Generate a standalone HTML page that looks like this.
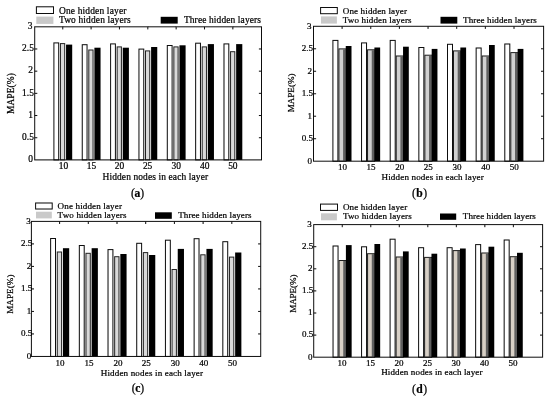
<!DOCTYPE html>
<html><head><meta charset="utf-8"><title>MAPE vs hidden nodes</title>
<style>
html,body{margin:0;padding:0;background:#fff;}
body{width:550px;height:402px;overflow:hidden;}
svg{display:block;}
svg text{font-family:"Liberation Serif",serif;fill:#000;stroke:#000;stroke-width:0.22px;}
</style></head><body>
<svg width="550" height="402" viewBox="0 0 550 402">
<defs><filter id="soft" x="0" y="0" width="550" height="402" filterUnits="userSpaceOnUse"><feGaussianBlur stdDeviation="0.32"/></filter></defs>
<rect x="0" y="0" width="550" height="402" fill="#fff"/>
<g filter="url(#soft)">
<g id="chart-a">
<rect x="53.9" y="42.9" width="4.8" height="117" fill="#fff" stroke="#0a0a0a" stroke-width="1"/><rect x="60.45" y="43.6" width="4.25" height="116.3" fill="#d9d9d9" stroke="#222" stroke-width="1"/><rect x="66.05" y="44.6" width="6.15" height="115.3" fill="#000"/>
<rect x="82.25" y="44.7" width="4.8" height="115.2" fill="#fff" stroke="#0a0a0a" stroke-width="1"/><rect x="88.8" y="50" width="4.25" height="109.9" fill="#d9d9d9" stroke="#222" stroke-width="1"/><rect x="94.4" y="47.7" width="6.15" height="112.2" fill="#000"/>
<rect x="110.6" y="43.9" width="4.8" height="116" fill="#fff" stroke="#0a0a0a" stroke-width="1"/><rect x="117.15" y="46.9" width="4.25" height="113" fill="#d9d9d9" stroke="#222" stroke-width="1"/><rect x="122.75" y="47.7" width="6.15" height="112.2" fill="#000"/>
<rect x="138.95" y="49.1" width="4.8" height="110.8" fill="#fff" stroke="#0a0a0a" stroke-width="1"/><rect x="145.5" y="50.9" width="4.25" height="109" fill="#d9d9d9" stroke="#222" stroke-width="1"/><rect x="151.1" y="47" width="6.15" height="112.9" fill="#000"/>
<rect x="167.3" y="45.5" width="4.8" height="114.4" fill="#fff" stroke="#0a0a0a" stroke-width="1"/><rect x="173.85" y="46.9" width="4.25" height="113" fill="#d9d9d9" stroke="#222" stroke-width="1"/><rect x="179.45" y="45.3" width="6.15" height="114.6" fill="#000"/>
<rect x="195.65" y="43.2" width="4.8" height="116.7" fill="#fff" stroke="#0a0a0a" stroke-width="1"/><rect x="202.2" y="46.9" width="4.25" height="113" fill="#d9d9d9" stroke="#222" stroke-width="1"/><rect x="207.8" y="44.1" width="6.15" height="115.8" fill="#000"/>
<rect x="224" y="43.9" width="4.8" height="116" fill="#fff" stroke="#0a0a0a" stroke-width="1"/><rect x="230.55" y="51.7" width="4.25" height="108.2" fill="#d9d9d9" stroke="#222" stroke-width="1"/><rect x="236.15" y="44.1" width="6.15" height="115.8" fill="#000"/>
<rect x="34.7" y="26.8" width="226.8" height="133.1" fill="none" stroke="#0a0a0a" stroke-width="1"/>
<path d="M62.75 26.8v2.6" stroke="#0a0a0a" stroke-width="1"/><text x="63.55" y="169.2" font-size="9.45" text-anchor="middle">10</text>
<path d="M91.1 26.8v2.6" stroke="#0a0a0a" stroke-width="1"/><text x="91.4" y="169.2" font-size="9.45" text-anchor="middle">15</text>
<path d="M119.45 26.8v2.6" stroke="#0a0a0a" stroke-width="1"/><text x="119.45" y="169.2" font-size="9.45" text-anchor="middle">20</text>
<path d="M147.8 26.8v2.6" stroke="#0a0a0a" stroke-width="1"/><text x="147.6" y="169.2" font-size="9.45" text-anchor="middle">25</text>
<path d="M176.15 26.8v2.6" stroke="#0a0a0a" stroke-width="1"/><text x="176.15" y="169.2" font-size="9.45" text-anchor="middle">30</text>
<path d="M204.5 26.8v2.6" stroke="#0a0a0a" stroke-width="1"/><text x="204.7" y="169.2" font-size="9.45" text-anchor="middle">40</text>
<path d="M232.85 26.8v2.6" stroke="#0a0a0a" stroke-width="1"/><text x="232.85" y="169.2" font-size="9.45" text-anchor="middle">50</text>
<text x="33" y="162.2" font-size="9.45" text-anchor="end">0</text>
<path d="M34.7 137.72h2.6M261.5 137.72h-2.6" stroke="#0a0a0a" stroke-width="1"/><text x="33.9" y="140.02" font-size="9.45" text-anchor="end">0.5</text>
<path d="M34.7 115.53h2.6M261.5 115.53h-2.6" stroke="#0a0a0a" stroke-width="1"/><text x="33" y="117.83" font-size="9.45" text-anchor="end">1</text>
<path d="M34.7 93.35h2.6M261.5 93.35h-2.6" stroke="#0a0a0a" stroke-width="1"/><text x="33.9" y="95.65" font-size="9.45" text-anchor="end">1.5</text>
<path d="M34.7 71.17h2.6M261.5 71.17h-2.6" stroke="#0a0a0a" stroke-width="1"/><text x="33" y="73.47" font-size="9.45" text-anchor="end">2</text>
<path d="M34.7 48.98h2.6M261.5 48.98h-2.6" stroke="#0a0a0a" stroke-width="1"/><text x="33.9" y="51.28" font-size="9.45" text-anchor="end">2.5</text>
<text x="32.4" y="29.1" font-size="9.45" text-anchor="end">3</text>
<rect x="36.4" y="6.8" width="17.1" height="6.7" fill="#fff" stroke="#0a0a0a" stroke-width="1"/><rect x="36.3" y="16.6" width="17.1" height="7.3" fill="#c9c9c9"/><rect x="160.7" y="16.8" width="17" height="6.8" fill="#000"/>
<text x="58.9" y="14" font-size="9.45" textLength="67.5" lengthAdjust="spacing">One hidden layer</text>
<text x="58.9" y="23" font-size="9.45" textLength="71.9" lengthAdjust="spacing">Two hidden layers</text>
<text x="183.9" y="23" font-size="9.45" textLength="77.1" lengthAdjust="spacing">Three hidden layers</text>
<text x="102.5" y="179.8" font-size="9.45" textLength="105.6" lengthAdjust="spacing">Hidden nodes in each layer</text>
<text transform="translate(13.7 93.6) rotate(-90)" font-size="9.45" text-anchor="middle" textLength="40.8" lengthAdjust="spacing">MAPE(%)</text>
<text x="130.9" y="196.6" font-size="11.6" textLength="13.1" lengthAdjust="spacing">(<tspan font-weight="bold">a</tspan>)</text>
</g>
<g id="chart-b">
<rect x="332.9" y="40.4" width="5" height="120.8" fill="#fff" stroke="#0a0a0a" stroke-width="1"/><rect x="338.9" y="48.9" width="7.1" height="112.3" fill="#d0d0d0" stroke="#1c1c1c" stroke-width="1"/><rect x="343.1" y="49.3" width="2.9" height="111.9" fill="#5e5e5e"/><rect x="345.75" y="46" width="5.75" height="115.2" fill="#000"/>
<rect x="361.55" y="42.9" width="5" height="118.3" fill="#fff" stroke="#0a0a0a" stroke-width="1"/><rect x="367.55" y="49.8" width="7.1" height="111.4" fill="#d0d0d0" stroke="#1c1c1c" stroke-width="1"/><rect x="371.75" y="50.2" width="2.9" height="111" fill="#5e5e5e"/><rect x="374.4" y="47.5" width="5.75" height="113.7" fill="#000"/>
<rect x="390.2" y="40.4" width="5" height="120.8" fill="#fff" stroke="#0a0a0a" stroke-width="1"/><rect x="396.2" y="56" width="7.1" height="105.2" fill="#d0d0d0" stroke="#1c1c1c" stroke-width="1"/><rect x="400.4" y="56.4" width="2.9" height="104.8" fill="#5e5e5e"/><rect x="403.05" y="46.7" width="5.75" height="114.5" fill="#000"/>
<rect x="418.85" y="47.5" width="5" height="113.7" fill="#fff" stroke="#0a0a0a" stroke-width="1"/><rect x="424.85" y="55.2" width="7.1" height="106" fill="#d0d0d0" stroke="#1c1c1c" stroke-width="1"/><rect x="429.05" y="55.6" width="2.9" height="105.6" fill="#5e5e5e"/><rect x="431.7" y="48.9" width="5.75" height="112.3" fill="#000"/>
<rect x="447.5" y="44.3" width="5" height="116.9" fill="#fff" stroke="#0a0a0a" stroke-width="1"/><rect x="453.5" y="50.9" width="7.1" height="110.3" fill="#d0d0d0" stroke="#1c1c1c" stroke-width="1"/><rect x="457.7" y="51.3" width="2.9" height="109.9" fill="#5e5e5e"/><rect x="460.35" y="47.5" width="5.75" height="113.7" fill="#000"/>
<rect x="476.15" y="48" width="5" height="113.2" fill="#fff" stroke="#0a0a0a" stroke-width="1"/><rect x="482.15" y="56" width="7.1" height="105.2" fill="#d0d0d0" stroke="#1c1c1c" stroke-width="1"/><rect x="486.35" y="56.4" width="2.9" height="104.8" fill="#5e5e5e"/><rect x="489" y="45" width="5.75" height="116.2" fill="#000"/>
<rect x="504.8" y="44" width="5" height="117.2" fill="#fff" stroke="#0a0a0a" stroke-width="1"/><rect x="510.8" y="52.6" width="7.1" height="108.6" fill="#d0d0d0" stroke="#1c1c1c" stroke-width="1"/><rect x="515" y="53" width="2.9" height="108.2" fill="#5e5e5e"/><rect x="517.65" y="48.9" width="5.75" height="112.3" fill="#000"/>
<rect x="313.5" y="26.3" width="230.1" height="134.9" fill="none" stroke="#0a0a0a" stroke-width="1"/>
<path d="M342.1 26.3v2.6" stroke="#0a0a0a" stroke-width="1"/><text x="342.4" y="170" font-size="9.05" text-anchor="middle">10</text>
<path d="M370.75 26.3v2.6" stroke="#0a0a0a" stroke-width="1"/><text x="371.05" y="170" font-size="9.05" text-anchor="middle">15</text>
<path d="M399.4 26.3v2.6" stroke="#0a0a0a" stroke-width="1"/><text x="399.7" y="170" font-size="9.05" text-anchor="middle">20</text>
<path d="M428.05 26.3v2.6" stroke="#0a0a0a" stroke-width="1"/><text x="428.35" y="170" font-size="9.05" text-anchor="middle">25</text>
<path d="M456.7 26.3v2.6" stroke="#0a0a0a" stroke-width="1"/><text x="457" y="170" font-size="9.05" text-anchor="middle">30</text>
<path d="M485.35 26.3v2.6" stroke="#0a0a0a" stroke-width="1"/><text x="485.65" y="170" font-size="9.05" text-anchor="middle">40</text>
<path d="M514 26.3v2.6" stroke="#0a0a0a" stroke-width="1"/><text x="514.3" y="170" font-size="9.05" text-anchor="middle">50</text>
<text x="312.05" y="163.5" font-size="9.05" text-anchor="end">0</text>
<path d="M313.5 138.72h2.6M543.6 138.72h-2.6" stroke="#0a0a0a" stroke-width="1"/><text x="312.95" y="141.02" font-size="9.05" text-anchor="end">0.5</text>
<path d="M313.5 116.23h2.6M543.6 116.23h-2.6" stroke="#0a0a0a" stroke-width="1"/><text x="312.05" y="118.53" font-size="9.05" text-anchor="end">1</text>
<path d="M313.5 93.75h2.6M543.6 93.75h-2.6" stroke="#0a0a0a" stroke-width="1"/><text x="312.95" y="96.05" font-size="9.05" text-anchor="end">1.5</text>
<path d="M313.5 71.27h2.6M543.6 71.27h-2.6" stroke="#0a0a0a" stroke-width="1"/><text x="312.05" y="73.57" font-size="9.05" text-anchor="end">2</text>
<path d="M313.5 48.78h2.6M543.6 48.78h-2.6" stroke="#0a0a0a" stroke-width="1"/><text x="312.95" y="51.08" font-size="9.05" text-anchor="end">2.5</text>
<text x="311.45" y="28.6" font-size="9.05" text-anchor="end">3</text>
<rect x="320.6" y="7.5" width="16.7" height="6.2" fill="#fff" stroke="#0a0a0a" stroke-width="1"/><rect x="321" y="16.4" width="15.9" height="7.2" fill="#c9c9c9"/><rect x="440.5" y="16.8" width="16.8" height="6.8" fill="#000"/>
<text x="342.7" y="14" font-size="9.05" textLength="64.3" lengthAdjust="spacing">One hidden layer</text>
<text x="342.7" y="23" font-size="9.05" textLength="68.9" lengthAdjust="spacing">Two hidden layers</text>
<text x="463" y="23" font-size="9.05" textLength="73.9" lengthAdjust="spacing">Three hidden layers</text>
<text x="381.5" y="179.6" font-size="9.05" textLength="102.3" lengthAdjust="spacing">Hidden nodes in each layer</text>
<text transform="translate(294.2 92.9) rotate(-90)" font-size="9.05" text-anchor="middle" textLength="38.8" lengthAdjust="spacing">MAPE(%)</text>
<text x="412" y="197" font-size="11.6" textLength="15.0" lengthAdjust="spacing">(<tspan font-weight="bold">b</tspan>)</text>
</g>
<g id="chart-c">
<rect x="50.63" y="238.5" width="4.88" height="117.95" fill="#fff" stroke="#0a0a0a" stroke-width="1"/><rect x="57.26" y="252" width="4.33" height="104.45" fill="#d9d9d9" stroke="#222" stroke-width="1"/><rect x="62.94" y="248.2" width="6.23" height="108.25" fill="#000"/>
<rect x="79.33" y="245.5" width="4.88" height="110.95" fill="#fff" stroke="#0a0a0a" stroke-width="1"/><rect x="85.96" y="253.3" width="4.33" height="103.15" fill="#d9d9d9" stroke="#222" stroke-width="1"/><rect x="91.64" y="248.2" width="6.23" height="108.25" fill="#000"/>
<rect x="108.03" y="249.6" width="4.88" height="106.85" fill="#fff" stroke="#0a0a0a" stroke-width="1"/><rect x="114.66" y="256.7" width="4.33" height="99.75" fill="#d9d9d9" stroke="#222" stroke-width="1"/><rect x="120.34" y="254" width="6.23" height="102.45" fill="#000"/>
<rect x="136.73" y="243.3" width="4.88" height="113.15" fill="#fff" stroke="#0a0a0a" stroke-width="1"/><rect x="143.36" y="252.6" width="4.33" height="103.85" fill="#d9d9d9" stroke="#222" stroke-width="1"/><rect x="149.04" y="255" width="6.23" height="101.45" fill="#000"/>
<rect x="165.43" y="240.2" width="4.88" height="116.25" fill="#fff" stroke="#0a0a0a" stroke-width="1"/><rect x="172.06" y="269.5" width="4.33" height="86.95" fill="#d9d9d9" stroke="#222" stroke-width="1"/><rect x="177.74" y="248.9" width="6.23" height="107.55" fill="#000"/>
<rect x="194.13" y="238.7" width="4.88" height="117.75" fill="#fff" stroke="#0a0a0a" stroke-width="1"/><rect x="200.76" y="254.8" width="4.33" height="101.65" fill="#d9d9d9" stroke="#222" stroke-width="1"/><rect x="206.44" y="248.9" width="6.23" height="107.55" fill="#000"/>
<rect x="222.83" y="241.7" width="4.88" height="114.75" fill="#fff" stroke="#0a0a0a" stroke-width="1"/><rect x="229.46" y="257.1" width="4.33" height="99.35" fill="#d9d9d9" stroke="#222" stroke-width="1"/><rect x="235.14" y="252.5" width="6.23" height="103.95" fill="#000"/>
<rect x="31.4" y="221.4" width="229.3" height="135.05" fill="none" stroke="#0a0a0a" stroke-width="1"/>
<path d="M59.6 221.4v2.6" stroke="#0a0a0a" stroke-width="1"/><text x="60.1" y="366.2" font-size="9.05" text-anchor="middle">10</text>
<path d="M88.3 221.4v2.6" stroke="#0a0a0a" stroke-width="1"/><text x="88.9" y="366.2" font-size="9.05" text-anchor="middle">15</text>
<path d="M117 221.4v2.6" stroke="#0a0a0a" stroke-width="1"/><text x="118" y="366.2" font-size="9.05" text-anchor="middle">20</text>
<path d="M145.7 221.4v2.6" stroke="#0a0a0a" stroke-width="1"/><text x="146.3" y="366.2" font-size="9.05" text-anchor="middle">25</text>
<path d="M174.4 221.4v2.6" stroke="#0a0a0a" stroke-width="1"/><text x="175.2" y="366.2" font-size="9.05" text-anchor="middle">30</text>
<path d="M203.1 221.4v2.6" stroke="#0a0a0a" stroke-width="1"/><text x="203.8" y="366.2" font-size="9.05" text-anchor="middle">40</text>
<path d="M231.8 221.4v2.6" stroke="#0a0a0a" stroke-width="1"/><text x="232.4" y="366.2" font-size="9.05" text-anchor="middle">50</text>
<text x="31.4" y="358.75" font-size="9.05" text-anchor="end">0</text>
<path d="M31.4 333.94h2.6M260.7 333.94h-2.6" stroke="#0a0a0a" stroke-width="1"/><text x="32.3" y="336.24" font-size="9.05" text-anchor="end">0.5</text>
<path d="M31.4 311.43h2.6M260.7 311.43h-2.6" stroke="#0a0a0a" stroke-width="1"/><text x="31.4" y="313.73" font-size="9.05" text-anchor="end">1</text>
<path d="M31.4 288.93h2.6M260.7 288.93h-2.6" stroke="#0a0a0a" stroke-width="1"/><text x="32.3" y="291.23" font-size="9.05" text-anchor="end">1.5</text>
<path d="M31.4 266.42h2.6M260.7 266.42h-2.6" stroke="#0a0a0a" stroke-width="1"/><text x="31.4" y="268.72" font-size="9.05" text-anchor="end">2</text>
<path d="M31.4 243.91h2.6M260.7 243.91h-2.6" stroke="#0a0a0a" stroke-width="1"/><text x="32.3" y="246.21" font-size="9.05" text-anchor="end">2.5</text>
<text x="30.8" y="223.7" font-size="9.05" text-anchor="end">3</text>
<rect x="35.6" y="203" width="16.6" height="6" fill="#fff" stroke="#0a0a0a" stroke-width="1"/><rect x="36" y="211.7" width="15.8" height="6.7" fill="#c9c9c9"/><rect x="155" y="212.3" width="16.8" height="6.5" fill="#000"/>
<text x="57.6" y="209" font-size="9.05" textLength="64.3" lengthAdjust="spacing">One hidden layer</text>
<text x="57.6" y="218" font-size="9.05" textLength="68.9" lengthAdjust="spacing">Two hidden layers</text>
<text x="178.2" y="218" font-size="9.05" textLength="73.4" lengthAdjust="spacing">Three hidden layers</text>
<text x="100.7" y="375.9" font-size="9.05" textLength="102.3" lengthAdjust="spacing">Hidden nodes in each layer</text>
<text transform="translate(13.05 294.2) rotate(-90)" font-size="9.05" text-anchor="middle" textLength="39.2" lengthAdjust="spacing">MAPE(%)</text>
<text x="131.7" y="392.4" font-size="11.6" textLength="12.5" lengthAdjust="spacing">(<tspan font-weight="bold">c</tspan>)</text>
</g>
<g id="chart-d">
<rect x="333.05" y="246" width="5" height="111.2" fill="#fff" stroke="#0a0a0a" stroke-width="1"/><rect x="339.05" y="260.5" width="7.1" height="96.7" fill="#d8d0c6" stroke="#1c1c1c" stroke-width="1"/><rect x="343.25" y="260.9" width="2.9" height="96.3" fill="#5e5e5e"/><rect x="345.9" y="245.1" width="5.75" height="112.1" fill="#000"/>
<rect x="361.57" y="246.8" width="5" height="110.4" fill="#fff" stroke="#0a0a0a" stroke-width="1"/><rect x="367.57" y="253.7" width="7.1" height="103.5" fill="#d8d0c6" stroke="#1c1c1c" stroke-width="1"/><rect x="371.77" y="254.1" width="2.9" height="103.1" fill="#5e5e5e"/><rect x="374.42" y="244" width="5.75" height="113.2" fill="#000"/>
<rect x="390.09" y="239.2" width="5" height="118" fill="#fff" stroke="#0a0a0a" stroke-width="1"/><rect x="396.09" y="257" width="7.1" height="100.2" fill="#d8d0c6" stroke="#1c1c1c" stroke-width="1"/><rect x="400.29" y="257.4" width="2.9" height="99.8" fill="#5e5e5e"/><rect x="402.94" y="251.4" width="5.75" height="105.8" fill="#000"/>
<rect x="418.61" y="247.7" width="5" height="109.5" fill="#fff" stroke="#0a0a0a" stroke-width="1"/><rect x="424.61" y="257.4" width="7.1" height="99.8" fill="#d8d0c6" stroke="#1c1c1c" stroke-width="1"/><rect x="428.81" y="257.8" width="2.9" height="99.4" fill="#5e5e5e"/><rect x="431.46" y="253.7" width="5.75" height="103.5" fill="#000"/>
<rect x="447.13" y="247.7" width="5" height="109.5" fill="#fff" stroke="#0a0a0a" stroke-width="1"/><rect x="453.13" y="250.6" width="7.1" height="106.6" fill="#d8d0c6" stroke="#1c1c1c" stroke-width="1"/><rect x="457.33" y="251" width="2.9" height="106.2" fill="#5e5e5e"/><rect x="459.98" y="248.5" width="5.75" height="108.7" fill="#000"/>
<rect x="475.65" y="244.6" width="5" height="112.6" fill="#fff" stroke="#0a0a0a" stroke-width="1"/><rect x="481.65" y="253" width="7.1" height="104.2" fill="#d8d0c6" stroke="#1c1c1c" stroke-width="1"/><rect x="485.85" y="253.4" width="2.9" height="103.8" fill="#5e5e5e"/><rect x="488.5" y="246.7" width="5.75" height="110.5" fill="#000"/>
<rect x="504.17" y="240" width="5" height="117.2" fill="#fff" stroke="#0a0a0a" stroke-width="1"/><rect x="510.17" y="256.7" width="7.1" height="100.5" fill="#d8d0c6" stroke="#1c1c1c" stroke-width="1"/><rect x="514.37" y="257.1" width="2.9" height="100.1" fill="#5e5e5e"/><rect x="517.02" y="252.8" width="5.75" height="104.4" fill="#000"/>
<rect x="313.7" y="224.6" width="228.9" height="132.6" fill="none" stroke="#0a0a0a" stroke-width="1"/>
<path d="M342.25 224.6v2.6" stroke="#0a0a0a" stroke-width="1"/><text x="341.95" y="365.9" font-size="9.05" text-anchor="middle">10</text>
<path d="M370.77 224.6v2.6" stroke="#0a0a0a" stroke-width="1"/><text x="370.47" y="365.9" font-size="9.05" text-anchor="middle">15</text>
<path d="M399.29 224.6v2.6" stroke="#0a0a0a" stroke-width="1"/><text x="398.99" y="365.9" font-size="9.05" text-anchor="middle">20</text>
<path d="M427.81 224.6v2.6" stroke="#0a0a0a" stroke-width="1"/><text x="427.51" y="365.9" font-size="9.05" text-anchor="middle">25</text>
<path d="M456.33 224.6v2.6" stroke="#0a0a0a" stroke-width="1"/><text x="456.03" y="365.9" font-size="9.05" text-anchor="middle">30</text>
<path d="M484.85 224.6v2.6" stroke="#0a0a0a" stroke-width="1"/><text x="484.55" y="365.9" font-size="9.05" text-anchor="middle">40</text>
<path d="M513.37 224.6v2.6" stroke="#0a0a0a" stroke-width="1"/><text x="513.07" y="365.9" font-size="9.05" text-anchor="middle">50</text>
<text x="312.5" y="359.5" font-size="9.05" text-anchor="end">0</text>
<path d="M313.7 335.1h2.6M542.6 335.1h-2.6" stroke="#0a0a0a" stroke-width="1"/><text x="313.4" y="337.4" font-size="9.05" text-anchor="end">0.5</text>
<path d="M313.7 313h2.6M542.6 313h-2.6" stroke="#0a0a0a" stroke-width="1"/><text x="312.5" y="315.3" font-size="9.05" text-anchor="end">1</text>
<path d="M313.7 290.9h2.6M542.6 290.9h-2.6" stroke="#0a0a0a" stroke-width="1"/><text x="313.4" y="293.2" font-size="9.05" text-anchor="end">1.5</text>
<path d="M313.7 268.8h2.6M542.6 268.8h-2.6" stroke="#0a0a0a" stroke-width="1"/><text x="312.5" y="271.1" font-size="9.05" text-anchor="end">2</text>
<path d="M313.7 246.7h2.6M542.6 246.7h-2.6" stroke="#0a0a0a" stroke-width="1"/><text x="313.4" y="249" font-size="9.05" text-anchor="end">2.5</text>
<text x="311.9" y="226.9" font-size="9.05" text-anchor="end">3</text>
<rect x="320.5" y="204.1" width="17" height="6.3" fill="#fff" stroke="#0a0a0a" stroke-width="1"/><rect x="321" y="213.3" width="15.9" height="7" fill="#c9c9c9"/><rect x="440" y="213.5" width="16.2" height="6.3" fill="#000"/>
<text x="342.9" y="210" font-size="9.05" textLength="64.3" lengthAdjust="spacing">One hidden layer</text>
<text x="342.9" y="219" font-size="9.05" textLength="68.9" lengthAdjust="spacing">Two hidden layers</text>
<text x="462.8" y="219" font-size="9.05" textLength="73.1" lengthAdjust="spacing">Three hidden layers</text>
<text x="381.2" y="375.2" font-size="9.05" textLength="101.2" lengthAdjust="spacing">Hidden nodes in each layer</text>
<text transform="translate(295.5 293.7) rotate(-90)" font-size="9.05" text-anchor="middle" textLength="38.2" lengthAdjust="spacing">MAPE(%)</text>
<text x="412" y="392.7" font-size="11.6" textLength="15.0" lengthAdjust="spacing">(<tspan font-weight="bold">d</tspan>)</text>
</g>
</g>
</svg>
</body></html>
